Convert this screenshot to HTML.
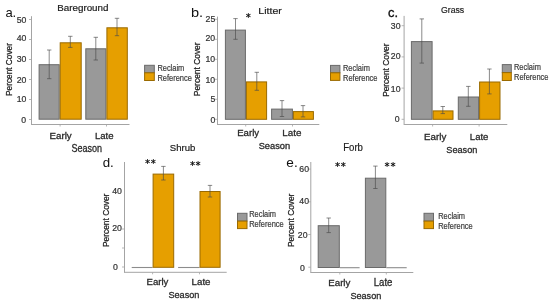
<!DOCTYPE html>
<html><head><meta charset="utf-8"><title>Percent cover by season</title>
<style>
html,body{margin:0;padding:0;background:#fff;}
body{width:550px;height:303px;overflow:hidden;}
svg{display:block;font-family:'Liberation Sans', Arial, sans-serif;filter:blur(0.3px);}
</style></head>
<body>
<svg width="550" height="303" viewBox="0 0 550 303">
<rect width="550" height="303" fill="#fff"/>
<path d="M31.50 16.20L31.50 125.00" stroke="#a4a4a4" stroke-width="1" fill="none"/>
<path d="M31.50 124.50L129.50 124.50" stroke="#a4a4a4" stroke-width="1" fill="none"/>
<path d="M29.00 19.50L31.50 19.50" stroke="#a4a4a4" stroke-width="0.8" fill="none"/>
<path d="M29.00 39.50L31.50 39.50" stroke="#a4a4a4" stroke-width="0.8" fill="none"/>
<path d="M29.00 59.50L31.50 59.50" stroke="#a4a4a4" stroke-width="0.8" fill="none"/>
<path d="M29.00 79.50L31.50 79.50" stroke="#a4a4a4" stroke-width="0.8" fill="none"/>
<path d="M29.00 99.50L31.50 99.50" stroke="#a4a4a4" stroke-width="0.8" fill="none"/>
<path d="M29.00 119.50L31.50 119.50" stroke="#a4a4a4" stroke-width="0.8" fill="none"/>
<path d="M60.10 124.50L60.10 126.50" stroke="#a4a4a4" stroke-width="0.8" fill="none"/>
<path d="M106.50 124.50L106.50 126.50" stroke="#a4a4a4" stroke-width="0.8" fill="none"/>
<rect x="39.10" y="64.70" width="20.10" height="54.50" fill="#999999" stroke="#6a6a6a" stroke-width="1"/>
<rect x="60.20" y="42.80" width="21.00" height="76.40" fill="#e69f00" stroke="#9a6a00" stroke-width="1"/>
<rect x="85.80" y="48.80" width="20.10" height="70.40" fill="#999999" stroke="#6a6a6a" stroke-width="1"/>
<rect x="106.90" y="27.80" width="20.40" height="91.40" fill="#e69f00" stroke="#9a6a00" stroke-width="1"/>
<path d="M49.20 50.00V78.70M47.00 50.00H51.40M47.00 78.70H51.40" stroke="#4a4a4a" stroke-width="0.65" fill="none"/>
<path d="M70.30 36.30V47.40M68.10 36.30H72.50M68.10 47.40H72.50" stroke="#4a4a4a" stroke-width="0.65" fill="none"/>
<path d="M95.80 37.30V60.00M93.60 37.30H98.00M93.60 60.00H98.00" stroke="#4a4a4a" stroke-width="0.65" fill="none"/>
<path d="M117.00 18.30V35.70M114.80 18.30H119.20M114.80 35.70H119.20" stroke="#4a4a4a" stroke-width="0.65" fill="none"/>
<rect x="144.60" y="65.30" width="9.70" height="7.50" fill="#999999" stroke="#6a6a6a" stroke-width="1"/>
<rect x="144.60" y="72.80" width="9.70" height="7.70" fill="#e69f00" stroke="#9a6a00" stroke-width="1"/>
<path d="M217.50 16.60L217.50 125.00" stroke="#a4a4a4" stroke-width="1" fill="none"/>
<path d="M217.50 124.50L319.30 124.50" stroke="#a4a4a4" stroke-width="1" fill="none"/>
<path d="M215.00 19.30L217.50 19.30" stroke="#a4a4a4" stroke-width="0.8" fill="none"/>
<path d="M215.00 39.30L217.50 39.30" stroke="#a4a4a4" stroke-width="0.8" fill="none"/>
<path d="M215.00 59.30L217.50 59.30" stroke="#a4a4a4" stroke-width="0.8" fill="none"/>
<path d="M215.00 79.30L217.50 79.30" stroke="#a4a4a4" stroke-width="0.8" fill="none"/>
<path d="M215.00 99.30L217.50 99.30" stroke="#a4a4a4" stroke-width="0.8" fill="none"/>
<path d="M215.00 119.30L217.50 119.30" stroke="#a4a4a4" stroke-width="0.8" fill="none"/>
<path d="M245.70 124.50L245.70 126.50" stroke="#a4a4a4" stroke-width="0.8" fill="none"/>
<path d="M292.50 124.50L292.50 126.50" stroke="#a4a4a4" stroke-width="0.8" fill="none"/>
<rect x="225.40" y="30.10" width="20.00" height="89.20" fill="#999999" stroke="#6a6a6a" stroke-width="1"/>
<rect x="246.40" y="81.90" width="20.20" height="37.40" fill="#e69f00" stroke="#9a6a00" stroke-width="1"/>
<rect x="271.60" y="109.10" width="20.80" height="10.20" fill="#999999" stroke="#6a6a6a" stroke-width="1"/>
<rect x="293.40" y="111.60" width="20.00" height="7.70" fill="#e69f00" stroke="#9a6a00" stroke-width="1"/>
<path d="M235.50 18.60V39.30M233.30 18.60H237.70M233.30 39.30H237.70" stroke="#4a4a4a" stroke-width="0.65" fill="none"/>
<path d="M256.80 72.30V90.30M254.60 72.30H259.00M254.60 90.30H259.00" stroke="#4a4a4a" stroke-width="0.65" fill="none"/>
<path d="M282.00 100.60V116.50M279.80 100.60H284.20M279.80 116.50H284.20" stroke="#4a4a4a" stroke-width="0.65" fill="none"/>
<path d="M303.00 105.60V116.90M300.80 105.60H305.20M300.80 116.90H305.20" stroke="#4a4a4a" stroke-width="0.65" fill="none"/>
<rect x="330.50" y="65.40" width="9.40" height="7.40" fill="#999999" stroke="#6a6a6a" stroke-width="1"/>
<rect x="330.50" y="72.80" width="9.40" height="7.60" fill="#e69f00" stroke="#9a6a00" stroke-width="1"/>
<path d="M404.10 15.90L404.10 125.00" stroke="#a4a4a4" stroke-width="1" fill="none"/>
<path d="M404.10 124.50L507.30 124.50" stroke="#a4a4a4" stroke-width="1" fill="none"/>
<path d="M401.60 119.30L404.10 119.30" stroke="#a4a4a4" stroke-width="0.8" fill="none"/>
<path d="M401.60 88.10L404.10 88.10" stroke="#a4a4a4" stroke-width="0.8" fill="none"/>
<path d="M401.60 56.90L404.10 56.90" stroke="#a4a4a4" stroke-width="0.8" fill="none"/>
<path d="M401.60 25.70L404.10 25.70" stroke="#a4a4a4" stroke-width="0.8" fill="none"/>
<path d="M432.60 124.50L432.60 126.50" stroke="#a4a4a4" stroke-width="0.8" fill="none"/>
<path d="M479.10 124.50L479.10 126.50" stroke="#a4a4a4" stroke-width="0.8" fill="none"/>
<rect x="411.40" y="41.60" width="20.70" height="77.70" fill="#999999" stroke="#6a6a6a" stroke-width="1"/>
<rect x="433.10" y="110.90" width="19.90" height="8.40" fill="#e69f00" stroke="#9a6a00" stroke-width="1"/>
<rect x="458.30" y="97.00" width="20.30" height="22.30" fill="#999999" stroke="#6a6a6a" stroke-width="1"/>
<rect x="479.60" y="82.00" width="20.40" height="37.30" fill="#e69f00" stroke="#9a6a00" stroke-width="1"/>
<path d="M421.80 18.90V63.10M419.60 18.90H424.00M419.60 63.10H424.00" stroke="#4a4a4a" stroke-width="0.65" fill="none"/>
<path d="M442.80 106.50V113.60M440.60 106.50H445.00M440.60 113.60H445.00" stroke="#4a4a4a" stroke-width="0.65" fill="none"/>
<path d="M468.30 86.40V106.30M466.10 86.40H470.50M466.10 106.30H470.50" stroke="#4a4a4a" stroke-width="0.65" fill="none"/>
<path d="M489.40 69.00V93.90M487.20 69.00H491.60M487.20 93.90H491.60" stroke="#4a4a4a" stroke-width="0.65" fill="none"/>
<rect x="502.30" y="64.60" width="9.00" height="8.00" fill="#999999" stroke="#6a6a6a" stroke-width="1"/>
<rect x="502.30" y="72.60" width="9.00" height="7.90" fill="#e69f00" stroke="#9a6a00" stroke-width="1"/>
<path d="M124.50 162.00L124.50 272.80" stroke="#a4a4a4" stroke-width="1" fill="none"/>
<path d="M124.50 272.30L226.70 272.30" stroke="#a4a4a4" stroke-width="1" fill="none"/>
<path d="M122.00 267.00L124.50 267.00" stroke="#a4a4a4" stroke-width="0.8" fill="none"/>
<path d="M122.00 248.00L124.50 248.00" stroke="#a4a4a4" stroke-width="0.8" fill="none"/>
<path d="M122.00 229.00L124.50 229.00" stroke="#a4a4a4" stroke-width="0.8" fill="none"/>
<path d="M152.60 272.30L152.60 274.30" stroke="#a4a4a4" stroke-width="0.8" fill="none"/>
<path d="M199.50 272.30L199.50 274.30" stroke="#a4a4a4" stroke-width="0.8" fill="none"/>
<path d="M131.70 267.50H152.60" stroke="#8c8c8c" stroke-width="1.1" fill="none"/>
<rect x="153.10" y="174.10" width="20.60" height="93.20" fill="#e69f00" stroke="#9a6a00" stroke-width="1"/>
<path d="M178.10 267.50H199.50" stroke="#8c8c8c" stroke-width="1.1" fill="none"/>
<rect x="200.00" y="191.50" width="20.10" height="75.80" fill="#e69f00" stroke="#9a6a00" stroke-width="1"/>
<path d="M163.40 166.40V180.00M161.20 166.40H165.60M161.20 180.00H165.60" stroke="#4a4a4a" stroke-width="0.65" fill="none"/>
<path d="M210.00 185.40V197.00M207.80 185.40H212.20M207.80 197.00H212.20" stroke="#4a4a4a" stroke-width="0.65" fill="none"/>
<rect x="237.50" y="213.30" width="9.50" height="7.80" fill="#999999" stroke="#6a6a6a" stroke-width="1"/>
<rect x="237.50" y="221.10" width="9.50" height="7.50" fill="#e69f00" stroke="#9a6a00" stroke-width="1"/>
<path d="M310.80 162.00L310.80 273.00" stroke="#a4a4a4" stroke-width="1" fill="none"/>
<path d="M310.80 272.50L413.30 272.50" stroke="#a4a4a4" stroke-width="1" fill="none"/>
<path d="M308.30 267.20L310.80 267.20" stroke="#a4a4a4" stroke-width="0.8" fill="none"/>
<path d="M308.30 234.50L310.80 234.50" stroke="#a4a4a4" stroke-width="0.8" fill="none"/>
<path d="M308.30 201.80L310.80 201.80" stroke="#a4a4a4" stroke-width="0.8" fill="none"/>
<path d="M308.30 169.10L310.80 169.10" stroke="#a4a4a4" stroke-width="0.8" fill="none"/>
<path d="M339.80 272.50L339.80 274.50" stroke="#a4a4a4" stroke-width="0.8" fill="none"/>
<path d="M386.30 272.50L386.30 274.50" stroke="#a4a4a4" stroke-width="0.8" fill="none"/>
<rect x="318.20" y="225.70" width="21.10" height="41.80" fill="#999999" stroke="#6a6a6a" stroke-width="1"/>
<path d="M339.80 267.70H359.60" stroke="#8c8c8c" stroke-width="1.1" fill="none"/>
<rect x="365.40" y="178.20" width="20.40" height="89.30" fill="#999999" stroke="#6a6a6a" stroke-width="1"/>
<path d="M386.30 267.70H406.70" stroke="#8c8c8c" stroke-width="1.1" fill="none"/>
<path d="M328.70 218.00V232.60M326.50 218.00H330.90M326.50 232.60H330.90" stroke="#4a4a4a" stroke-width="0.65" fill="none"/>
<path d="M375.40 166.10V188.50M373.20 166.10H377.60M373.20 188.50H377.60" stroke="#4a4a4a" stroke-width="0.65" fill="none"/>
<rect x="424.00" y="213.30" width="9.50" height="7.80" fill="#999999" stroke="#6a6a6a" stroke-width="1"/>
<rect x="424.00" y="221.10" width="9.50" height="7.50" fill="#e69f00" stroke="#9a6a00" stroke-width="1"/>
<text x="5.38" y="16.70" font-size="13.28" textLength="10.87" lengthAdjust="spacingAndGlyphs" fill="#111" stroke="#111" stroke-width="0.0">a.</text>
<text x="57.21" y="10.60" font-size="8.86" textLength="51.29" lengthAdjust="spacingAndGlyphs" fill="#1a1a1a" stroke="#1a1a1a" stroke-width="0.18">Bareground</text>
<text x="16.64" y="22.94" font-size="8.70" fill="#333333" stroke="#333333" stroke-width="0.22">50</text>
<text x="16.64" y="41.25" font-size="8.70" fill="#333333" stroke="#333333" stroke-width="0.22">40</text>
<text x="16.64" y="62.15" font-size="8.70" fill="#333333" stroke="#333333" stroke-width="0.22">30</text>
<text x="16.64" y="82.75" font-size="8.70" fill="#333333" stroke="#333333" stroke-width="0.22">20</text>
<text x="16.64" y="102.34" font-size="8.70" fill="#333333" stroke="#333333" stroke-width="0.22">10</text>
<text x="21.28" y="123.45" font-size="8.70" fill="#333333" stroke="#333333" stroke-width="0.22">0</text>
<text x="49.52" y="138.70" font-size="9.00" textLength="22.18" lengthAdjust="spacingAndGlyphs" fill="#2a2a2a" stroke="#2a2a2a" stroke-width="0.3">Early</text>
<text x="94.94" y="138.70" font-size="9.46" textLength="18.56" lengthAdjust="spacingAndGlyphs" fill="#2a2a2a" stroke="#2a2a2a" stroke-width="0.3">Late</text>
<text x="71.59" y="151.50" font-size="10.32" textLength="30.56" lengthAdjust="spacingAndGlyphs" fill="#2a2a2a" stroke="#2a2a2a" stroke-width="0.3">Season</text>
<text transform="translate(11.70 95.96) rotate(-90)" font-size="8.29" textLength="52.87" lengthAdjust="spacingAndGlyphs" fill="#1e1e1e" stroke="#1e1e1e" stroke-width="0.25">Percent Cover</text>
<text x="157.40" y="71.10" font-size="8.26" textLength="26.86" lengthAdjust="spacingAndGlyphs" fill="#3c3c3c" stroke="#3c3c3c" stroke-width="0.2">Reclaim</text>
<text x="157.40" y="81.30" font-size="8.26" textLength="34.51" lengthAdjust="spacingAndGlyphs" fill="#3c3c3c" stroke="#3c3c3c" stroke-width="0.2">Reference</text>
<text x="191.03" y="16.60" font-size="13.28" textLength="12.15" lengthAdjust="spacingAndGlyphs" fill="#111" stroke="#111" stroke-width="0.0">b.</text>
<text x="258.36" y="14.00" font-size="9.45" textLength="23.38" lengthAdjust="spacingAndGlyphs" fill="#1a1a1a" stroke="#1a1a1a" stroke-width="0.18">Litter</text>
<text x="205.58" y="21.64" font-size="8.70" fill="#333333" stroke="#333333" stroke-width="0.22">25</text>
<text x="205.54" y="41.15" font-size="8.70" fill="#333333" stroke="#333333" stroke-width="0.22">20</text>
<text x="205.54" y="62.25" font-size="8.70" fill="#333333" stroke="#333333" stroke-width="0.22">10</text>
<text x="205.54" y="82.95" font-size="8.70" fill="#333333" stroke="#333333" stroke-width="0.22">10</text>
<text x="210.42" y="102.14" font-size="8.70" fill="#333333" stroke="#333333" stroke-width="0.22">5</text>
<text x="210.38" y="123.25" font-size="8.70" fill="#333333" stroke="#333333" stroke-width="0.22">0</text>
<text x="237.23" y="136.30" font-size="9.00" textLength="21.87" lengthAdjust="spacingAndGlyphs" fill="#2a2a2a" stroke="#2a2a2a" stroke-width="0.3">Early</text>
<text x="282.32" y="136.30" font-size="9.46" textLength="19.09" lengthAdjust="spacingAndGlyphs" fill="#2a2a2a" stroke="#2a2a2a" stroke-width="0.3">Late</text>
<text x="258.68" y="149.10" font-size="8.80" textLength="31.49" lengthAdjust="spacingAndGlyphs" fill="#2a2a2a" stroke="#2a2a2a" stroke-width="0.3">Season</text>
<text transform="translate(199.50 96.17) rotate(-90)" font-size="8.29" textLength="53.78" lengthAdjust="spacingAndGlyphs" fill="#1e1e1e" stroke="#1e1e1e" stroke-width="0.25">Percent Cover</text>
<text x="343.00" y="71.20" font-size="8.26" textLength="26.86" lengthAdjust="spacingAndGlyphs" fill="#3c3c3c" stroke="#3c3c3c" stroke-width="0.2">Reclaim</text>
<text x="343.00" y="81.40" font-size="8.26" textLength="34.51" lengthAdjust="spacingAndGlyphs" fill="#3c3c3c" stroke="#3c3c3c" stroke-width="0.2">Reference</text>
<text x="387.98" y="17.10" font-size="13.28" textLength="10.05" lengthAdjust="spacingAndGlyphs" fill="#111" stroke="#111" stroke-width="0.35">c.</text>
<text x="441.07" y="13.00" font-size="9.63" textLength="23.14" lengthAdjust="spacingAndGlyphs" fill="#1a1a1a" stroke="#1a1a1a" stroke-width="0.18">Grass</text>
<text x="390.84" y="29.04" font-size="8.70" fill="#333333" stroke="#333333" stroke-width="0.22">30</text>
<text x="390.84" y="58.95" font-size="8.70" fill="#333333" stroke="#333333" stroke-width="0.22">20</text>
<text x="390.84" y="92.05" font-size="8.70" fill="#333333" stroke="#333333" stroke-width="0.22">10</text>
<text x="394.78" y="122.05" font-size="8.70" fill="#333333" stroke="#333333" stroke-width="0.22">0</text>
<text x="424.12" y="140.40" font-size="9.00" textLength="22.18" lengthAdjust="spacingAndGlyphs" fill="#2a2a2a" stroke="#2a2a2a" stroke-width="0.3">Early</text>
<text x="469.84" y="140.40" font-size="9.46" textLength="18.56" lengthAdjust="spacingAndGlyphs" fill="#2a2a2a" stroke="#2a2a2a" stroke-width="0.3">Late</text>
<text x="446.29" y="153.20" font-size="9.56" textLength="31.07" lengthAdjust="spacingAndGlyphs" fill="#2a2a2a" stroke="#2a2a2a" stroke-width="0.3">Season</text>
<text transform="translate(388.50 96.87) rotate(-90)" font-size="8.29" textLength="53.38" lengthAdjust="spacingAndGlyphs" fill="#1e1e1e" stroke="#1e1e1e" stroke-width="0.25">Percent Cover</text>
<text x="514.00" y="69.60" font-size="8.26" textLength="26.86" lengthAdjust="spacingAndGlyphs" fill="#3c3c3c" stroke="#3c3c3c" stroke-width="0.2">Reclaim</text>
<text x="514.00" y="79.80" font-size="8.26" textLength="34.51" lengthAdjust="spacingAndGlyphs" fill="#3c3c3c" stroke="#3c3c3c" stroke-width="0.2">Reference</text>
<text x="102.67" y="166.60" font-size="12.40" textLength="11.10" lengthAdjust="spacingAndGlyphs" fill="#111" stroke="#111" stroke-width="0.0">d.</text>
<text x="169.87" y="151.00" font-size="9.30" textLength="25.52" lengthAdjust="spacingAndGlyphs" fill="#1a1a1a" stroke="#1a1a1a" stroke-width="0.18">Shrub</text>
<text x="112.14" y="194.04" font-size="8.70" fill="#333333" stroke="#333333" stroke-width="0.22">40</text>
<text x="112.14" y="231.14" font-size="8.70" fill="#333333" stroke="#333333" stroke-width="0.22">20</text>
<text x="113.08" y="270.05" font-size="8.70" fill="#333333" stroke="#333333" stroke-width="0.22">0</text>
<text x="146.53" y="284.60" font-size="9.15" textLength="21.87" lengthAdjust="spacingAndGlyphs" fill="#2a2a2a" stroke="#2a2a2a" stroke-width="0.3">Early</text>
<text x="191.62" y="284.60" font-size="9.61" textLength="18.87" lengthAdjust="spacingAndGlyphs" fill="#2a2a2a" stroke="#2a2a2a" stroke-width="0.3">Late</text>
<text x="168.39" y="297.70" font-size="9.87" textLength="31.07" lengthAdjust="spacingAndGlyphs" fill="#2a2a2a" stroke="#2a2a2a" stroke-width="0.3">Season</text>
<text transform="translate(109.00 246.97) rotate(-90)" font-size="8.29" textLength="53.38" lengthAdjust="spacingAndGlyphs" fill="#1e1e1e" stroke="#1e1e1e" stroke-width="0.25">Percent Cover</text>
<text x="249.20" y="216.90" font-size="8.26" textLength="26.86" lengthAdjust="spacingAndGlyphs" fill="#3c3c3c" stroke="#3c3c3c" stroke-width="0.2">Reclaim</text>
<text x="249.20" y="227.10" font-size="8.26" textLength="34.51" lengthAdjust="spacingAndGlyphs" fill="#3c3c3c" stroke="#3c3c3c" stroke-width="0.2">Reference</text>
<text x="286.36" y="167.10" font-size="13.47" textLength="11.34" lengthAdjust="spacingAndGlyphs" fill="#111" stroke="#111" stroke-width="0.0">e.</text>
<text x="343.23" y="151.40" font-size="10.04" textLength="19.76" lengthAdjust="spacingAndGlyphs" fill="#1a1a1a" stroke="#1a1a1a" stroke-width="0.18">Forb</text>
<text x="299.34" y="172.44" font-size="8.70" fill="#333333" stroke="#333333" stroke-width="0.22">60</text>
<text x="299.34" y="203.94" font-size="8.70" fill="#333333" stroke="#333333" stroke-width="0.22">40</text>
<text x="297.84" y="237.94" font-size="8.70" fill="#333333" stroke="#333333" stroke-width="0.22">20</text>
<text x="299.88" y="270.65" font-size="8.70" fill="#333333" stroke="#333333" stroke-width="0.22">0</text>
<text x="328.22" y="286.10" font-size="9.74" fill="#2a2a2a" stroke="#2a2a2a" stroke-width="0.3">Early</text>
<text x="373.73" y="286.10" font-size="10.23" textLength="18.66" lengthAdjust="spacingAndGlyphs" fill="#2a2a2a" stroke="#2a2a2a" stroke-width="0.3">Late</text>
<text x="350.39" y="299.20" font-size="9.56" textLength="30.97" lengthAdjust="spacingAndGlyphs" fill="#2a2a2a" stroke="#2a2a2a" stroke-width="0.3">Season</text>
<text transform="translate(294.00 246.97) rotate(-90)" font-size="8.29" textLength="53.38" lengthAdjust="spacingAndGlyphs" fill="#1e1e1e" stroke="#1e1e1e" stroke-width="0.25">Percent Cover</text>
<text x="438.20" y="219.10" font-size="8.26" textLength="26.86" lengthAdjust="spacingAndGlyphs" fill="#3c3c3c" stroke="#3c3c3c" stroke-width="0.2">Reclaim</text>
<text x="438.20" y="229.30" font-size="8.26" textLength="34.51" lengthAdjust="spacingAndGlyphs" fill="#3c3c3c" stroke="#3c3c3c" stroke-width="0.2">Reference</text>
<text x="245.78" y="20.97" font-size="9.8" font-family="DejaVu Sans, sans-serif" font-weight="bold" fill="#111" stroke="#111" stroke-width="0.0">*</text>
<text x="144.88 150.78" y="166.97" font-size="9.8" font-family="DejaVu Sans, sans-serif" font-weight="bold" fill="#111" stroke="#111" stroke-width="0.0">**</text>
<text x="189.88 195.43" y="168.82" font-size="9.8" font-family="DejaVu Sans, sans-serif" font-weight="bold" fill="#111" stroke="#111" stroke-width="0.0">**</text>
<text x="335.03 340.68" y="169.72" font-size="9.8" font-family="DejaVu Sans, sans-serif" font-weight="bold" fill="#111" stroke="#111" stroke-width="0.0">**</text>
<text x="384.43 390.43" y="169.72" font-size="9.8" font-family="DejaVu Sans, sans-serif" font-weight="bold" fill="#111" stroke="#111" stroke-width="0.0">**</text>
</svg>
</body></html>
